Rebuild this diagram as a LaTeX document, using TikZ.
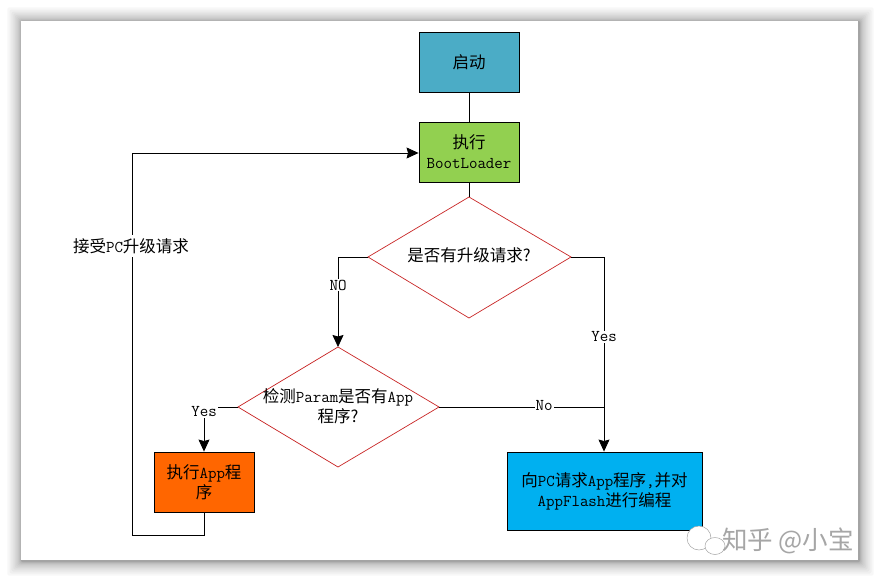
\documentclass[tikz,border=0pt]{standalone}
\usepackage{fontspec}
\usetikzlibrary{shapes.geometric,arrows.meta,calc}
\newfontfamily\cjk{Noto Sans CJK SC}
\newcommand{\Z}[1]{{\cjk #1}}
\tikzset{
  x=1pt,y=-1pt,
  every node/.style={font=\fontsize{16.5}{20}\selectfont\ttfamily,text=black,align=center,inner sep=0pt},
  procbox/.style={draw=black,line width=0.9pt,minimum width=100pt,minimum height=60pt},
  decide/.style={draw=red!75!black!85,line width=0.7pt},
  link/.style={draw=black,line width=0.8pt},
  arrow/.style={link,-{Stealth[length=12pt,width=11pt,inset=1.5pt]}},
  tag/.style={fill=white,inner xsep=1pt,inner ysep=1pt},
  mark text/.style={font=\fontsize{25.5}{25}\selectfont,text=black!35}
}
\begin{document}
\begin{tikzpicture}
\useasboundingbox (0,0) rectangle (879,581);
\fill[white] (0,0) rectangle (879,581);
% soft shadow of the page card
\foreach \i in {0,...,12}{
  \pgfmathsetmacro{\s}{0.095*\i*\i}
  \fill[black,opacity=0.03,rounded corners=2pt] ({21-\s},{21-\s}) rectangle ({858+\s+2},{560+\s+2});
}
\fill[white] (21,21) rectangle (858,560);

\node[procbox,fill={rgb,255:red,75;green,172;blue,198}] (start) at (469,62.5) {\Z{启动}};
\node[procbox,fill={rgb,255:red,146;green,208;blue,80}] (boot) at (469,152) {\Z{执行}\\BootLoader};
\coordinate (d1t) at (469,197); \coordinate (d1l) at (368,257);
\coordinate (d1r) at (571,257); \coordinate (d1b) at (469,318);
\coordinate (d2t) at (338,347); \coordinate (d2l) at (238,407);
\coordinate (d2r) at (439,407); \coordinate (d2b) at (338,467);
\draw[decide] (d1t) -- (d1r) -- (d1b) -- (d1l) -- cycle;
\draw[decide] (d2t) -- (d2r) -- (d2b) -- (d2l) -- cycle;
\node (q1) at (469,255) {\Z{是否有升级请求?}};
\node (q2) at (338,406) {\Z{检测}Param\Z{是否有}App\\\Z{程序?}};
\node[procbox,fill={rgb,255:red,255;green,102;blue,0}] (run) at (204,482) {\Z{执行}App\Z{程}\\\Z{序}};
\node[procbox,minimum width=195pt,minimum height=78pt,fill={rgb,255:red,0;green,176;blue,240}] (flash) at (604.5,491) {\Z{向}PC\Z{请求}App\Z{程序},\Z{并对}\\AppFlash\Z{进行编程}};

\coordinate (a) at (338,257);
\coordinate (b) at (604,257);
\coordinate (c) at (604,407);
\coordinate (e) at (204,407);
\coordinate (f) at (204,535);
\coordinate (g) at (132,535);
\coordinate (h) at (132,153);

\draw[link] (start) -- (boot);
\draw[link] (boot) -- (d1t);
\draw[arrow] (d1l) -- (a) -- (d2t);
\draw[arrow] (d1r) -- (b) -- (flash.north -| b);
\draw[link] (d2r) -- (c);
\draw[arrow] (d2l) -- (e) -- (run);
\draw[arrow] (run) -- (f) -- (g) -- (h) -- (boot.west |- h);

\node[tag] (lno) at (338,285) {NO};
\node[tag] (lyes) at (604,337) {Yes};
\node[tag] (lno2) at (544,406) {No};
\node[tag] (lyes2) at (204,412) {Yes};
\node[tag,inner ysep=3pt] (lup) at (131,246) {\Z{接受}PC\Z{升级请求}};

% watermark
\draw[black!35,line width=0.5pt,fill=white] (699,538) ellipse (12pt and 12pt);
\draw[black!35,line width=0.5pt,fill=white] (715,546) ellipse (10pt and 8.5pt);
\node[mark text] (wm) at (788,541) {\Z{知乎 @小宝}};
\end{tikzpicture}
\end{document}
